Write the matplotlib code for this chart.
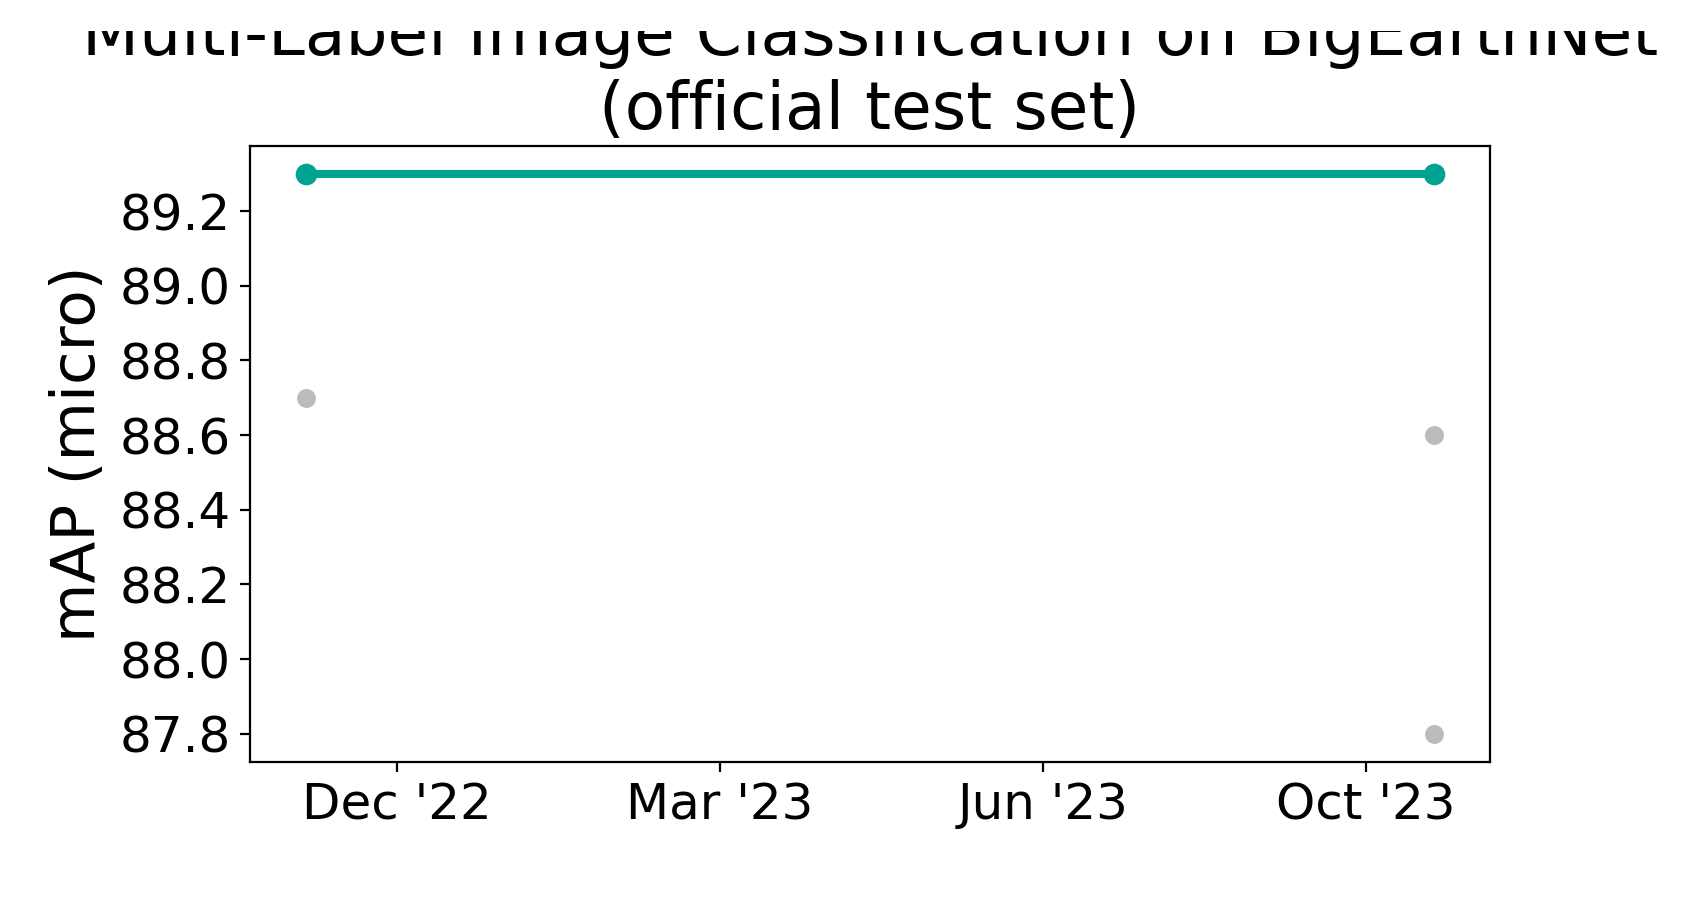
import datetime as dt
import matplotlib
matplotlib.use("Agg")
import matplotlib.pyplot as plt
import matplotlib.dates as mdates
from matplotlib.ticker import MultipleLocator
from matplotlib.patches import Rectangle

# state-of-the-art line (best result so far)
sota_dates = [dt.datetime(2022, 11, 13), dt.datetime(2023, 10, 28)]
sota_map = [89.3, 89.3]

# other submitted results
other_dates = [dt.datetime(2022, 11, 13), dt.datetime(2023, 10, 28), dt.datetime(2023, 10, 28)]
other_map = [88.7, 88.6, 87.8]

tick_dates = [dt.datetime(2022, 12, 11), dt.datetime(2023, 3, 21),
              dt.datetime(2023, 6, 29), dt.datetime(2023, 10, 7)]

fig = plt.figure(figsize=(8.5, 4.5), dpi=200)
ax = fig.add_axes([0.1471, 0.1537, 0.7294, 0.6844])

ax.plot(other_dates, other_map, 'o', color='#bbbbbb', markersize=5.8, zorder=2)
ax.plot(sota_dates, sota_map, '-o', color='#00a392', linewidth=2.9, markersize=6.8, zorder=3)

ax.set_xticks(tick_dates)
ax.xaxis.set_major_formatter(mdates.DateFormatter("%b '%y"))
ax.yaxis.set_major_locator(MultipleLocator(0.2))
ax.tick_params(labelsize=18)

ax.set_ylabel('mAP (micro)', fontsize=22)
ax.set_title('Multi-Label Image Classification on BigEarthNet\n(official test set)', fontsize=23.8)

# the top of the first title line is cut off in the original
fig.patches.append(Rectangle((0, 0.966), 1, 0.04, transform=fig.transFigure,
                             facecolor='white', edgecolor='none', zorder=5))

fig.savefig('out.png', dpi=200)
